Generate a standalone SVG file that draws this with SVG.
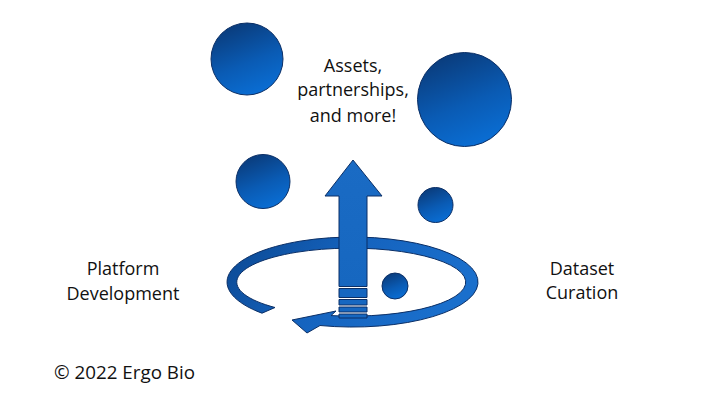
<svg xmlns="http://www.w3.org/2000/svg" width="706" height="404" viewBox="0 0 706 404">
  <style>
    .lbl { font-family: "Open Sans", "Liberation Sans", sans-serif; font-size: 18px; fill: #111; text-anchor: middle; }
    .ball { fill: url(#ballGrad); stroke: #0b2f66; stroke-width: 1; }
    .shape { stroke: #0b2f66; stroke-width: 1; stroke-linejoin: round; }
  </style>
  <defs>
    <linearGradient id="ballGrad" x1="0.3" y1="0" x2="0.7" y2="1">
      <stop offset="0" stop-color="#0a3b7a"/>
      <stop offset="0.55" stop-color="#0a5bb4"/>
      <stop offset="1" stop-color="#0a6fd6"/>
    </linearGradient>
    <linearGradient id="ringGrad" x1="0" y1="0" x2="1" y2="0.3">
      <stop offset="0" stop-color="#0b4790"/>
      <stop offset="0.5" stop-color="#1563be"/>
      <stop offset="1" stop-color="#1a6fcc"/>
    </linearGradient>
    <linearGradient id="arrowGrad" x1="0" y1="0" x2="0" y2="1">
      <stop offset="0" stop-color="#1a6bc4"/>
      <stop offset="1" stop-color="#1667c0"/>
    </linearGradient>
  </defs>

  <g id="circles">
    <circle id="ball-top-left" class="ball" cx="247" cy="59" r="36"/>
    <circle id="ball-big-right" class="ball" cx="464.5" cy="99.5" r="47"/>
    <circle id="ball-mid-left" class="ball" cx="263" cy="181.5" r="27"/>
    <circle id="ball-small-right" class="ball" cx="435.5" cy="205" r="17.5"/>
    <circle id="ball-bottom" class="ball" cx="395" cy="286" r="13"/>
  </g>

  <g id="cycle-ring">
    <path class="shape" fill="url(#ringGrad)" d="M 262,313.2 A 125.5 45 0 1 1 320,325.5 L 307,333 L 292,320 L 336,311 L 331,315.6 A 114.5 34 0 1 0 275,307.5 Z"/>
  </g>

  <g id="up-arrow">
    <path class="shape" fill="url(#arrowGrad)" d="M 353,160 L 382,196 L 367,196 L 367,286.5 L 339,286.5 L 339,196 L 325,196 Z"/>
    <rect class="shape" fill="#1667c0" x="339" y="288.5" width="28" height="9"/>
    <rect class="shape" fill="#1667c0" x="339" y="299.5" width="28" height="5.5"/>
    <rect class="shape" fill="#1667c0" x="339" y="307" width="28" height="5"/>
    <rect class="shape" fill="#1667c0" x="339" y="314" width="28" height="4"/>
  </g>

  <g id="label-assets">
    <text class="lbl" x="353" y="72">Assets,</text>
    <text class="lbl" x="353" y="96">partnerships,</text>
    <text class="lbl" x="353" y="121.5">and more!</text>
  </g>
  <g id="label-platform">
    <text class="lbl" x="123" y="275">Platform</text>
    <text class="lbl" x="123" y="300">Development</text>
  </g>
  <g id="label-dataset">
    <text class="lbl" x="582" y="275">Dataset</text>
    <text class="lbl" x="582" y="299">Curation</text>
  </g>
  <text id="copyright" x="54" y="379" style="font-family: 'Open Sans', 'Liberation Sans', sans-serif; font-size: 18.8px; fill: #111;">© 2022 Ergo Bio</text>
</svg>
